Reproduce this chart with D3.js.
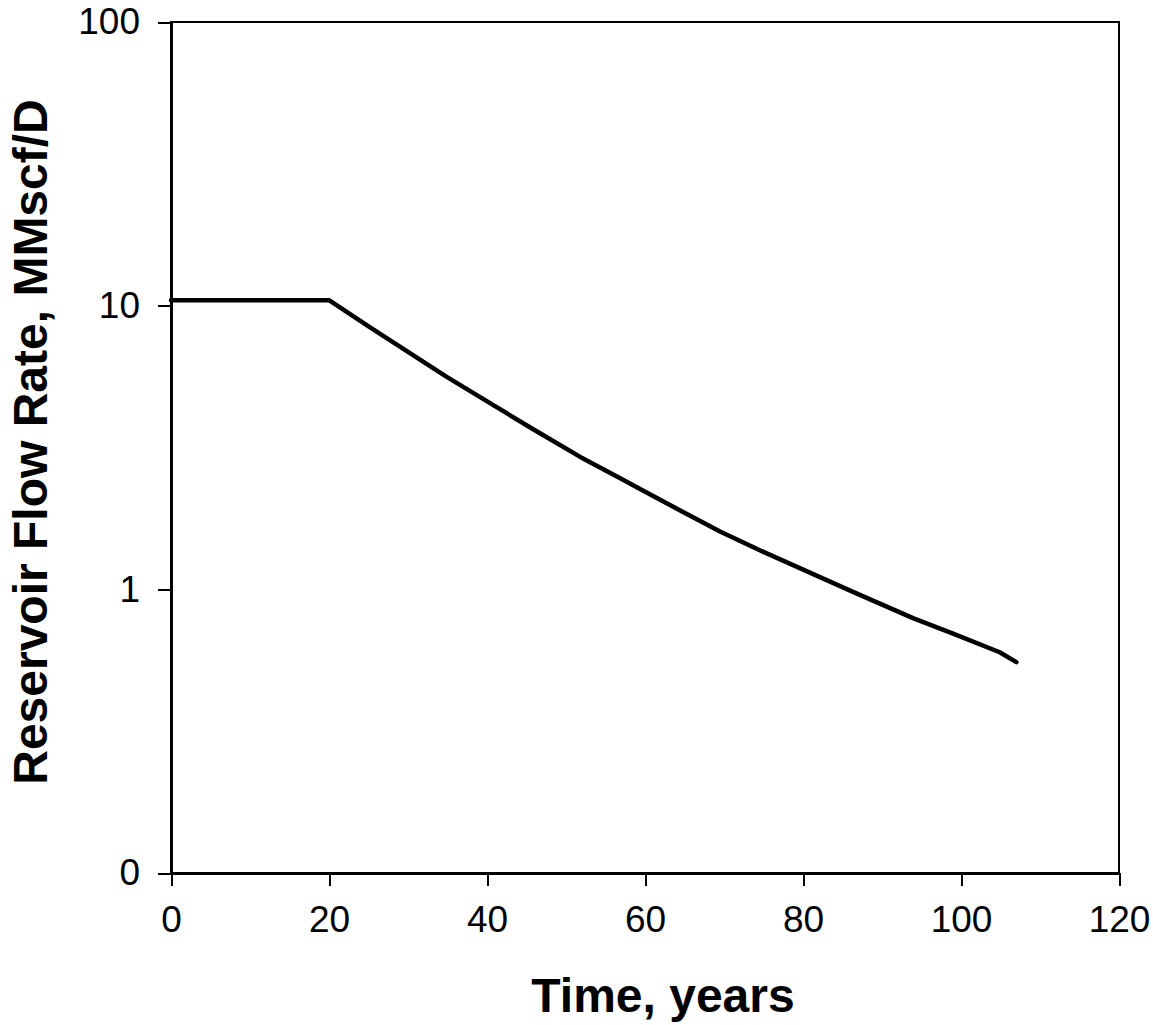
<!DOCTYPE html>
<html lang="en">
<head>
<meta charset="utf-8">
<title>Reservoir flow rate</title>
<script type="text/javascript" src="https://cdn.jsdelivr.net/npm/d3@7"></script>
<style type="text/css">
body { margin: 0; background: #fff; }
.axis path,
.axis line {
  stroke: #000;
  stroke-width: 2px;
  shape-rendering: crispEdges;
}
.axis text {
  font-family: "Liberation Sans", Arial, sans-serif;
  font-size: 37px;
  fill: #000;
}
.title {
  font-family: "Liberation Sans", Arial, sans-serif;
  font-weight: bold;
  font-size: 48px;
  fill: #000;
}
</style>
</head>
<body>
<script type="text/javascript">
var w = 1153;
var h = 1025;
var plotLeft = 171, plotRight = 1119, plotTop = 22, plotBottom = 873;

// data
var years = [0, 20, 25.2, 34.9, 40.8, 45.9, 51.8, 56.8, 59.2, 64.4, 69.5, 74.6, 86.4, 94.0, 99.0, 104.9, 107.0];
var rates = [10.45, 10.45, 8.38, 5.61, 4.46, 3.66, 2.93, 2.47, 2.27, 1.90, 1.60, 1.37, 0.978, 0.79, 0.698, 0.60, 0.554];

var xTicks = [0, 20, 40, 60, 80, 100, 120];
var yTicks = [0.1, 1, 10, 100];
var yTickLabels = ["0", "1", "10", "100"];

var xScale = d3.scaleLinear()
               .domain([0, 120])
               .range([plotLeft, plotRight]);
var yScale = d3.scaleLog()
               .domain([0.1, 100])
               .range([plotBottom, plotTop]);

var svg = d3.select("body")
            .append("svg")
            .attr("width", w)
            .attr("height", h);

// plot frame
svg.append("rect")
   .attr("x", plotLeft)
   .attr("y", plotTop)
   .attr("width", plotRight - plotLeft)
   .attr("height", plotBottom - plotTop)
   .attr("fill", "none")
   .attr("stroke", "#000")
   .attr("stroke-width", 2)
   .attr("shape-rendering", "crispEdges");

var xAxis = d3.axisBottom(xScale)
              .tickValues(xTicks)
              .tickSize(13)
              .tickSizeOuter(0)
              .tickPadding(20)
              .tickFormat(d3.format("d"));
var yAxis = d3.axisLeft(yScale)
              .tickValues(yTicks)
              .tickSize(13)
              .tickSizeOuter(0)
              .tickPadding(18)
              .tickFormat(function(d, i) { return yTickLabels[i]; });

svg.append("g")
   .attr("class", "axis")
   .attr("transform", "translate(0," + plotBottom + ")")
   .call(xAxis);
svg.append("g")
   .attr("class", "axis")
   .attr("transform", "translate(" + plotLeft + ",0)")
   .call(yAxis);

var points = years.map(function(d, i) { return [d, rates[i]]; });

var line = d3.line()
             .x(function(d) { return xScale(d[0]); })
             .y(function(d) { return yScale(d[1]); });

svg.append("path")
   .datum(points)
   .attr("d", line)
   .attr("fill", "none")
   .attr("stroke", "#000")
   .attr("stroke-width", 4.5)
   .attr("stroke-linejoin", "round")
   .attr("stroke-linecap", "round");

// axis titles
svg.append("text")
   .attr("class", "title")
   .attr("x", 663)
   .attr("y", 1012)
   .attr("text-anchor", "middle")
   .text("Time, years");

svg.append("text")
   .attr("class", "title")
   .attr("transform", "translate(47,442) rotate(-90)")
   .attr("text-anchor", "middle")
   .text("Reservoir Flow Rate, MMscf/D");
</script>
</body>
</html>
